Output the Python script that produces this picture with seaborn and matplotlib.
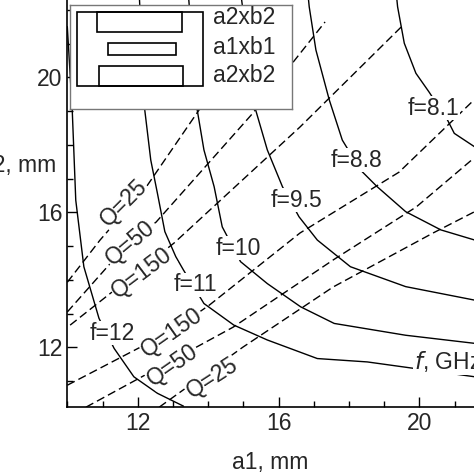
"""Resonant frequency f and quality factor Q contours vs slot sizes a1, a2."""

import matplotlib.pyplot as plt
import matplotlib.patches as patches
import seaborn as sns

# curves: (a1, a2) in mm
F_CURVES = {
    "12": ([10.0, 10.14, 10.24, 10.47, 10.90, 11.33, 11.89, 12.56, 13.30],
           [21.5, 19.03, 16.36, 14.39, 12.86, 11.97, 11.13, 10.64, 10.26]),
    "11": ([12.05, 12.20, 12.37, 12.56, 12.77, 13.08, 13.30, 13.88, 14.73, 15.68, 17.10, 18.52, 21.57],
           [22.3, 19.03, 17.55, 16.56, 15.43, 14.69, 14.29, 13.30, 12.66, 12.22, 11.67, 11.57, 11.13]),
    "10": ([13.45, 13.69, 13.88, 14.17, 14.40, 14.92, 15.68, 16.63, 17.58, 19.61, 21.57],
           [22.3, 19.03, 17.85, 16.76, 15.57, 14.54, 13.89, 13.20, 12.71, 12.36, 12.12]),
    "9.5": ([14.95, 15.35, 15.68, 16.11, 16.58, 17.10, 18.04, 19.61, 21.57],
            [22.3, 19.03, 17.85, 16.76, 15.87, 15.18, 14.39, 13.80, 13.40]),
    "8.8": ([16.85, 16.87, 17.06, 17.44, 17.81, 18.33, 18.80, 19.61, 20.61, 21.57],
            [22.3, 22.09, 20.81, 19.33, 18.14, 17.25, 16.76, 16.02, 15.48, 15.18]),
    "8.1": ([19.36, 19.38, 19.57, 19.90, 20.27, 20.80, 20.99, 21.57],
            [22.3, 22.09, 21.01, 20.12, 19.57, 18.73, 18.34, 17.94]),
}
Q_CURVES = {
    "25 upper": ([10.0, 10.93, 12.24, 13.74, 15.19], [13.93, 15.18, 16.75, 19.03, 21.10]),
    "50 upper": ([10.0, 11.81, 12.52, 15.22, 17.32], [13.05, 15.18, 15.71, 18.88, 21.64]),
    "150 upper": ([10.08, 13.03, 16.61, 19.54], [12.66, 15.09, 18.53, 21.55]),
    "150 lower": ([10.0, 13.0, 14.03, 16.61, 19.42, 21.55], [10.88, 12.51, 13.25, 15.39, 17.19, 19.33]),
    "50 lower": ([10.53, 14.71, 17.55, 19.91, 21.55], [10.23, 12.60, 14.59, 16.16, 17.61]),
    "25 lower": ([12.61, 14.99, 17.55, 20.39, 21.55], [10.23, 12.01, 13.79, 15.39, 16.01]),
}
F_LABELS = {"12": (11.27, 12.42), "11": (13.63, 13.85), "10": (14.85, 14.94),
            "9.5": (16.52, 16.36), "8.8": (18.22, 17.55), "8.1": (20.39, 19.09)}
Q_LABELS = [("25", 11.59, 16.27, 45), ("50", 11.78, 15.09, 40), ("150", 12.12, 14.2, 37),
            ("150", 12.97, 12.45, 35), ("50", 13.0, 11.48, 35), ("25", 14.11, 11.09, 33)]

sns.set_theme(style="ticks")
plt.rcParams["font.family"] = ["Liberation Sans", "DejaVu Sans"]
FS = 16.5

fig = plt.figure(figsize=(4.74, 4.74), dpi=100)
ax = fig.add_axes([0.142, 0.141, 0.858, 0.859])

for name, (xs, ys) in F_CURVES.items():
    sns.lineplot(x=xs, y=ys, ax=ax, sort=False, estimator=None, color="black", lw=1.0)
for name, (xs, ys) in Q_CURVES.items():
    line = sns.lineplot(x=xs, y=ys, ax=ax, sort=False, estimator=None, color="black", lw=1.0)
    line.lines[-1].set_dashes((6, 3))

box = dict(facecolor="white", edgecolor="none", pad=0.5)
for name, (x, y) in F_LABELS.items():
    ax.text(x, y, f"f={name}", fontsize=FS, ha="center", va="center", bbox=box)
for name, x, y, rot in Q_LABELS:
    ax.text(x, y, f"Q={name}", fontsize=FS, ha="center", va="center", rotation=rot, bbox=box)
ax.text(19.85, 11.57, "$\\it{f}$, GHz", fontsize=FS, ha="left", va="center", bbox=box)

ax.set_xlim(10, 21.55)
ax.set_ylim(10.23, 22.29)
ax.set_xticks([12, 16, 20])
ax.set_yticks([12, 16, 20])
ax.set_xticks(range(10, 22), minor=True)
ax.set_yticks(range(11, 23), minor=True)
ax.tick_params(which="both", direction="in", labelsize=FS, color="black", width=1)
ax.tick_params(which="major", length=7)
ax.tick_params(which="minor", length=4)
sns.despine(ax=ax)
for s in ("left", "bottom"):
    ax.spines[s].set_color("black")
    ax.spines[s].set_linewidth(1.2)
ax.set_xlabel("")
fig.text(270 / 474, 1 - 462 / 474, "a1, mm", fontsize=FS, ha="center", va="center")
fig.text(56 / 474, 1 - 165 / 474, "a2, mm", fontsize=FS, ha="right", va="center")

# inset sketch of the slot layout (pixel-like coordinates)
ins = fig.add_axes([70 / 474, 1 - 109 / 474, 222 / 474, 104 / 474])
ins.set_xlim(70, 292)
ins.set_ylim(109, 5)
ins.set_xticks([])
ins.set_yticks([])
for s in ins.spines.values():
    s.set_color("#777777")
    s.set_linewidth(1)
for x0, y0, x1, y1 in [(77, 12, 203, 86), (97, 12, 182, 32), (108, 43, 176, 55), (99, 66, 183, 86)]:
    ins.add_patch(patches.Rectangle((x0, y0), x1 - x0, y1 - y0, fill=False, ec="black", lw=1.2))
for y, t in [(17, "a2xb2"), (47, "a1xb1"), (75, "a2xb2")]:
    ins.text(213, y, t, fontsize=FS, ha="left", va="center")

fig.savefig("out.png", dpi=100)
